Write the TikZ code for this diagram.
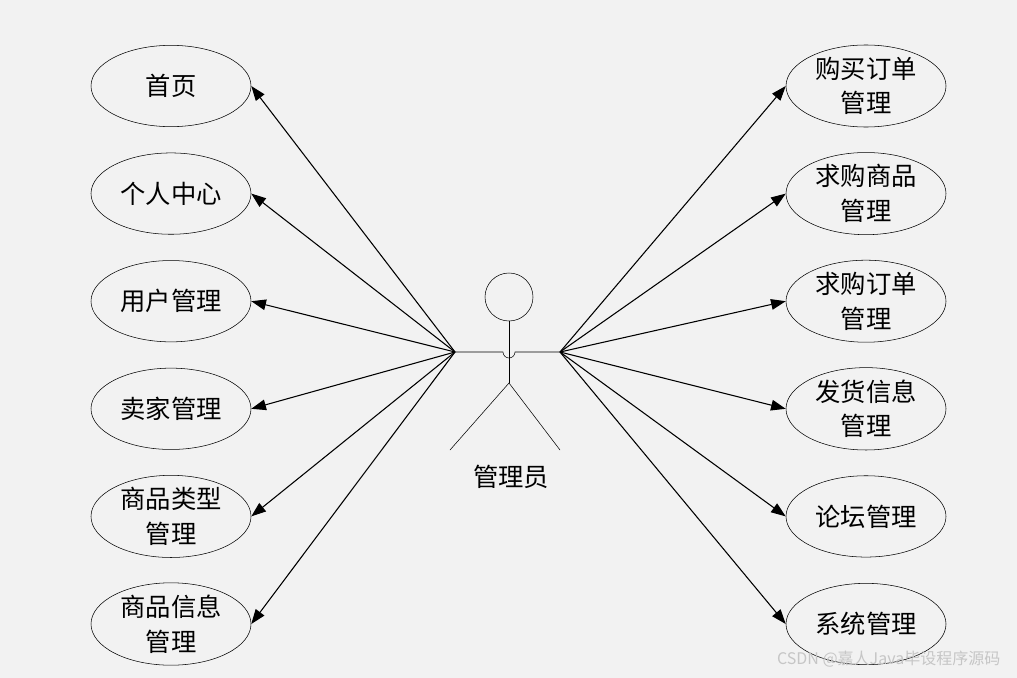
\documentclass[tikz,border=0pt]{standalone}
\usepackage{fontspec}
\setmainfont{Noto Sans CJK SC}
\usetikzlibrary{arrows.meta,shapes.geometric}
\tikzset{
  usecase/.style={draw,ellipse,minimum width=120pt,minimum height=61pt,inner sep=0pt,align=center,
    font=\fontsize{19}{26}\selectfont},
  link/.style={-{Triangle[length=11pt,width=8pt]},thick},
}
\begin{document}
\begin{tikzpicture}[x=0.75pt,y=-0.75pt]
   \fill[black!5] (0,0) rectangle (1017,678);
   \useasboundingbox (0,0) rectangle (1017,678);
   % actor
   \draw (509,297) circle (24);
   \draw (509,321) -- (509,383);
   \draw (455,352) -- (503,352) arc (180:0:6) -- (560,352);
   \draw (450,450) -- (509,383) -- (560,450);
   \node[font=\fontsize{19}{24}\selectfont] (adm) at (511,477) {管理员};
   \coordinate (lh) at (455,352);
   \coordinate (rh) at (560,352);
   % left use cases
   \foreach \t [count=\i] in {首页,个人中心,用户管理,卖家管理,商品类型\\管理,商品信息\\管理} {
    \node[usecase] (l\i) at (171,{86+107.6*(\i-1)}) {\t};
    \draw[link] (lh) -- (l\i.east);
   }
   % right use cases
   \foreach \t [count=\i] in {购买订单\\管理,求购商品\\管理,求购订单\\管理,发货信息\\管理,论坛管理,系统管理} {
    \node[usecase] (r\i) at (866,{86+107.6*(\i-1)}) {\t};
    \draw[link] (rh) -- (r\i.west);
   }
   \node[gray!45,font=\fontsize{12}{14}\selectfont,anchor=east] (mark) at (1005,659) {CSDN @嘉人Java毕设程序源码};
\end{tikzpicture}
\end{document}
